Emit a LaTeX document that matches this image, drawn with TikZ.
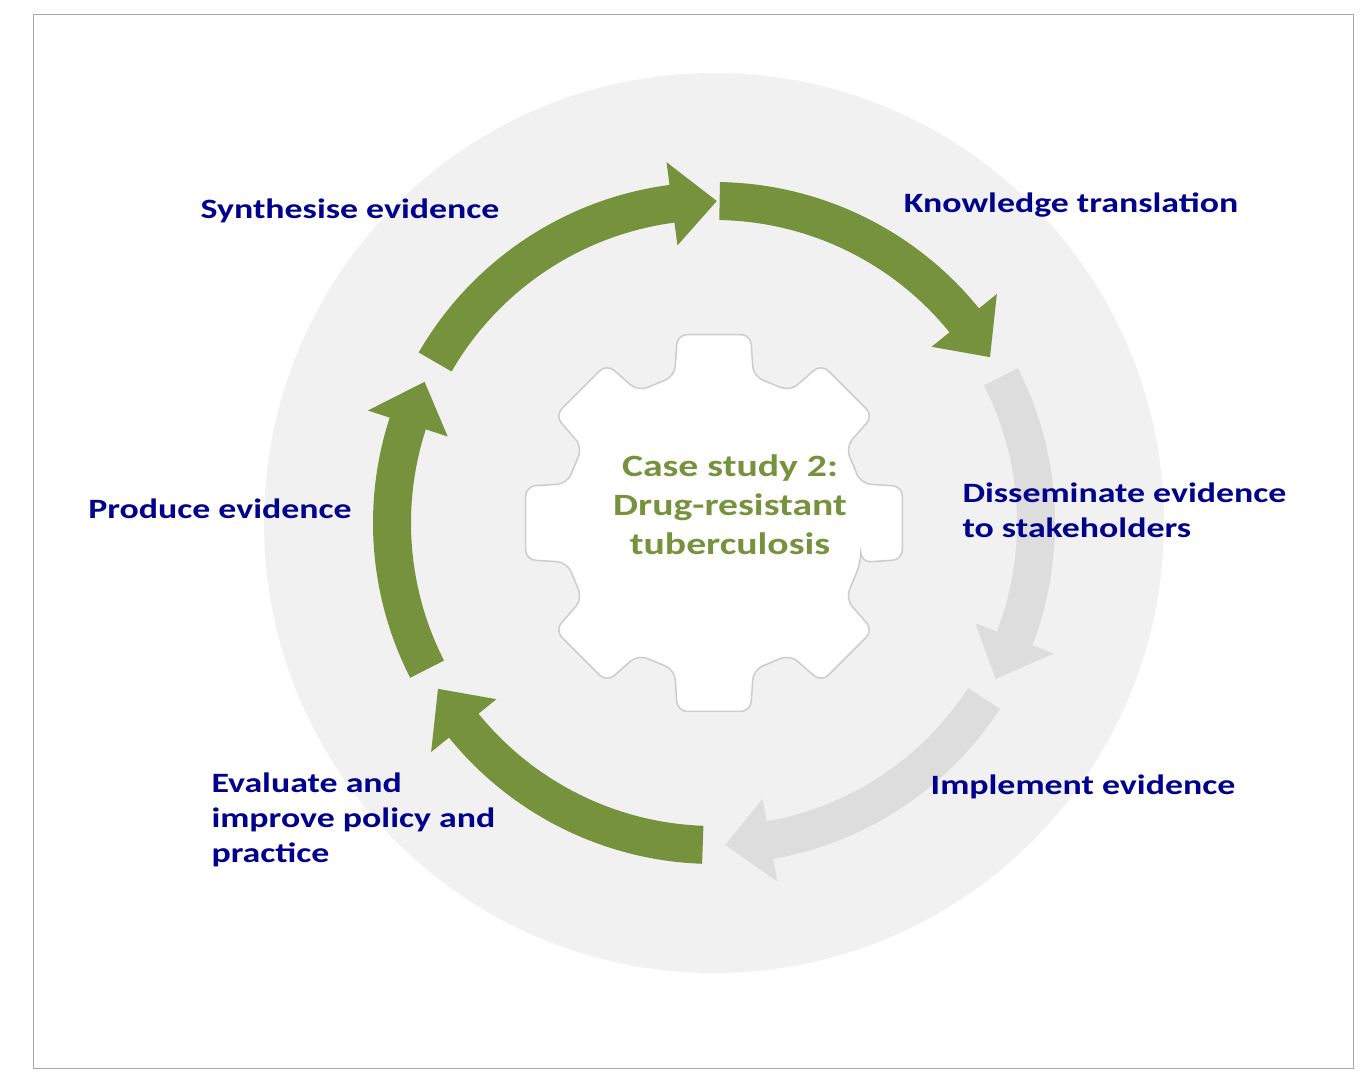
\documentclass[tikz,border=0pt]{standalone}
\usepackage{fontspec}
\setmainfont{Carlito}
\usepackage{tikz}

\definecolor{navyText}{RGB}{0,0,140}
\definecolor{leafGreen}{RGB}{118,146,60}
\definecolor{paleGrey}{RGB}{241,241,241}
\definecolor{fadeGrey}{RGB}{221,221,221}

% ring arrow: start angle, tip angle, colour (clockwise)
\newcommand\ringarrow[3]{%
  \fill[#3] (#1:341) arc[start angle=#1,end angle=#2+8,radius=341]
    -- (#2+8:364) -- (#2:322) -- (#2+8:280) -- (#2+8:303)
    arc[start angle=#2+8,end angle=#1,radius=303] -- cycle;}

\tikzset{
  stage/.style={font=\bfseries\fontsize{28}{35}\selectfont, text=navyText, align=left, xscale=1.28, transform shape},
  hub/.style={font=\bfseries\fontsize{31}{39}\selectfont, text=leafGreen, align=center, xscale=1.28, transform shape}
}

\begin{document}
\begin{tikzpicture}[x=1pt,y=1pt]
		\useasboundingbox (0,0) rectangle (1368,1072);
		% Rahmen
		\draw[gray!70, line width=1pt] (33,4) rectangle (1353,1057);
		
		\begin{scope}[shift={(714,549)}]
		% Hintergrundkreis
		\fill[paleGrey] (0,0) circle (450);
		
		% Pfeile
		\ringarrow{150}{89.5}{leafGreen}
		\ringarrow{89}{31}{leafGreen}
		\ringarrow{27}{-29}{fadeGrey}
		\ringarrow{-33}{-88}{fadeGrey}
		\ringarrow{268}{211}{leafGreen}
		\ringarrow{207}{154}{leafGreen}
		
		% Zahnrad
		\draw[fill=white, draw=gray!40, line width=1.5pt, rounded corners=10pt]
			(-15:152) \foreach \a in {0,45,...,315} {
				-- (\a-15:152) -- (\a-11:192) -- (\a+11:192) -- (\a+15:152)
			} -- cycle;
		\end{scope}
		
		% Texte
		\node[hub] (hub) at (730,567) {Case study 2:\\Drug-resistant\\tuberculosis};
		\node[stage] (synth) at (350,861) {Synthesise evidence};
		\node[stage] (know) at (1071,867) {Knowledge translation};
		\node[stage, anchor=west] (dissem) at (958,562) {Disseminate evidence\\to stakeholders};
		\node[stage] (impl) at (1083,285) {Implement evidence};
		\node[stage] (prod) at (220,563) {Produce evidence};
		\node[stage, anchor=west] (eval) at (207,252) {Evaluate and\\improve policy and\\practice};
	\end{tikzpicture}
\end{document}
